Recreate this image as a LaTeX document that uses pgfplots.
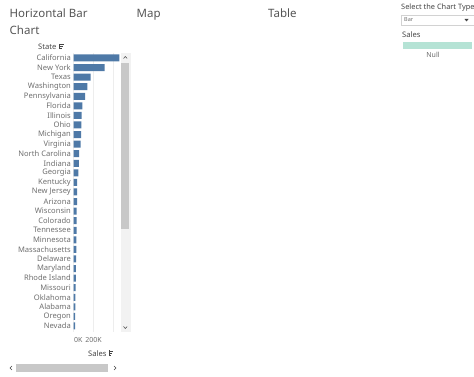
\documentclass[border=0pt]{standalone}
\usepackage{fontspec}
\setmainfont{Noto Sans}
\usepackage{pgfplots}
\pgfplotsset{compat=1.18}
\definecolor{barblue}{HTML}{4E79A7}
\definecolor{txt}{HTML}{6E6E6E}
\definecolor{ttl}{HTML}{555555}
\definecolor{hdr}{HTML}{444444}
\definecolor{mint}{HTML}{B5E3D5}
\definecolor{thumb}{HTML}{C8C8C8}
\definecolor{track}{HTML}{F2F2F2}
\begin{document}
\begin{tikzpicture}
\begin{scope}[x=1pt,y=1pt]
\path[use as bounding box] (0,0) rectangle (474,377);
% dashboard titles
\node[anchor=base west, inner sep=0, font=\fontsize{11.5}{14}\selectfont, text=ttl] at (9.5,359) {Horizontal Bar};
\node[anchor=base west, inner sep=0, font=\fontsize{11.5}{14}\selectfont, text=ttl] at (9.5,342) {Chart};
\node[anchor=base west, inner sep=0, font=\fontsize{11.5}{14}\selectfont, text=ttl] at (136.5,359) {Map};
\node[anchor=base west, inner sep=0, font=\fontsize{11.5}{14}\selectfont, text=ttl] at (268,359.5) {Table};
% right panel
\node[anchor=base west, inner sep=0, font=\fontsize{7.4}{9}\selectfont, text=hdr] at (401,367) {Select the Chart Type};
\draw[gray!35, line width=0.5pt] (401,352) rectangle (474,362);
\node[anchor=base west, inner sep=0, font=\fontsize{5.5}{7}\selectfont, text=txt] at (404,355) {Bar};
\fill[hdr] (464.5,358) -- (468.5,358) -- (466.5,355.5) -- cycle;
\node[anchor=base west, inner sep=0, font=\fontsize{7.6}{9}\selectfont, text=hdr] at (402,339) {Sales};
\fill[mint] (403,328) rectangle (472,335);
\node[anchor=base, inner sep=0, font=\fontsize{7}{9}\selectfont, text=txt] at (433,319) {Null};
% State header
\node[anchor=base west, inner sep=0, font=\fontsize{7.6}{9}\selectfont, text=hdr] at (38,327) {State};
\draw[hdr, line width=0.5pt] (59.5,332.5) -- (63.5,332.5) (59.5,330.5) -- (62.5,330.5) (59.5,328.5) -- (61.5,328.5) (59.5,333) -- (59.5,327.5);
% vertical scrollbar
\fill[track] (120.5,45) rectangle (131,324);
\fill[thumb] (120.5,148) rectangle (129,314);
\draw[hdr, line width=0.5pt] (123.5,318.5) -- (125.3,320.5) -- (127.1,318.5);
\draw[hdr, line width=0.5pt] (123.5,50.5) -- (125.3,48.5) -- (127.1,50.5);
% horizontal scrollbar
\fill[thumb] (16,5) rectangle (108,13);
\draw[hdr, line width=0.5pt] (12,11) -- (10,9) -- (12,7);
\draw[hdr, line width=0.5pt] (114,11) -- (116,9) -- (114,7);
% Sales axis title
\node[anchor=base west, inner sep=0, font=\fontsize{7.6}{9}\selectfont, text=hdr] at (88,20) {Sales};
\draw[hdr, line width=0.5pt] (109,26) -- (113,26) (109,24) -- (112,24) (109,22) -- (111,22) (109,26.5) -- (109,21);
\end{scope}
\begin{axis}[
  at={(73.5pt,45pt)}, anchor=south west, scale only axis,
  width=47pt, height=279pt,
  xbar, bar width=7pt,
  y dir=reverse,
  ymin=-0.52, ymax=28.63,
  xmin=0, xmax=470000,
  ytick={0,...,28},
  yticklabels={California,New York,Texas,Washington,Pennsylvania,Florida,Illinois,Ohio,Michigan,Virginia,North Carolina,Indiana,Georgia,Kentucky,New Jersey,Arizona,Wisconsin,Colorado,Tennessee,Minnesota,Massachusetts,Delaware,Maryland,Rhode Island,Missouri,Oklahoma,Alabama,Oregon,Nevada},
  yticklabel style={font=\fontsize{7.6}{9}\selectfont, text=txt, inner sep=0pt, xshift=-2.5pt},
  xtick={200000,400000},
  xticklabels={200K,{}},
  extra x ticks={0},
  extra x tick labels={0K},
  extra x tick style={xticklabel style={anchor=north west, xshift=0.5pt}},
  scaled x ticks=false,
  xticklabel style={font=\fontsize{7}{9}\selectfont, text=txt, inner sep=0pt, yshift=-5pt},
  /pgf/number format/assume math mode=true,
  xmajorgrids,
  grid style={black!7, line width=0.5pt},
  axis line style={draw=none},
  major tick length=0pt,
  tick style={draw=none},
]
\addplot[fill=barblue, draw=none] coordinates {
(457688,0) (310876,1) (170188,2) (138641,3) (116512,4) (89474,5) (80166,6) (78258,7) (76270,8) (70637,9)
(55603,10) (53555,11) (49096,12) (36592,13) (35764,14) (35282,15) (32115,16) (32108,17) (30662,18) (29863,19)
(28634,20) (27451,21) (23706,22) (22628,23) (22205,24) (19683,25) (19511,26) (17431,27) (16729,28)
};
\end{axis}
\end{tikzpicture}
\end{document}
